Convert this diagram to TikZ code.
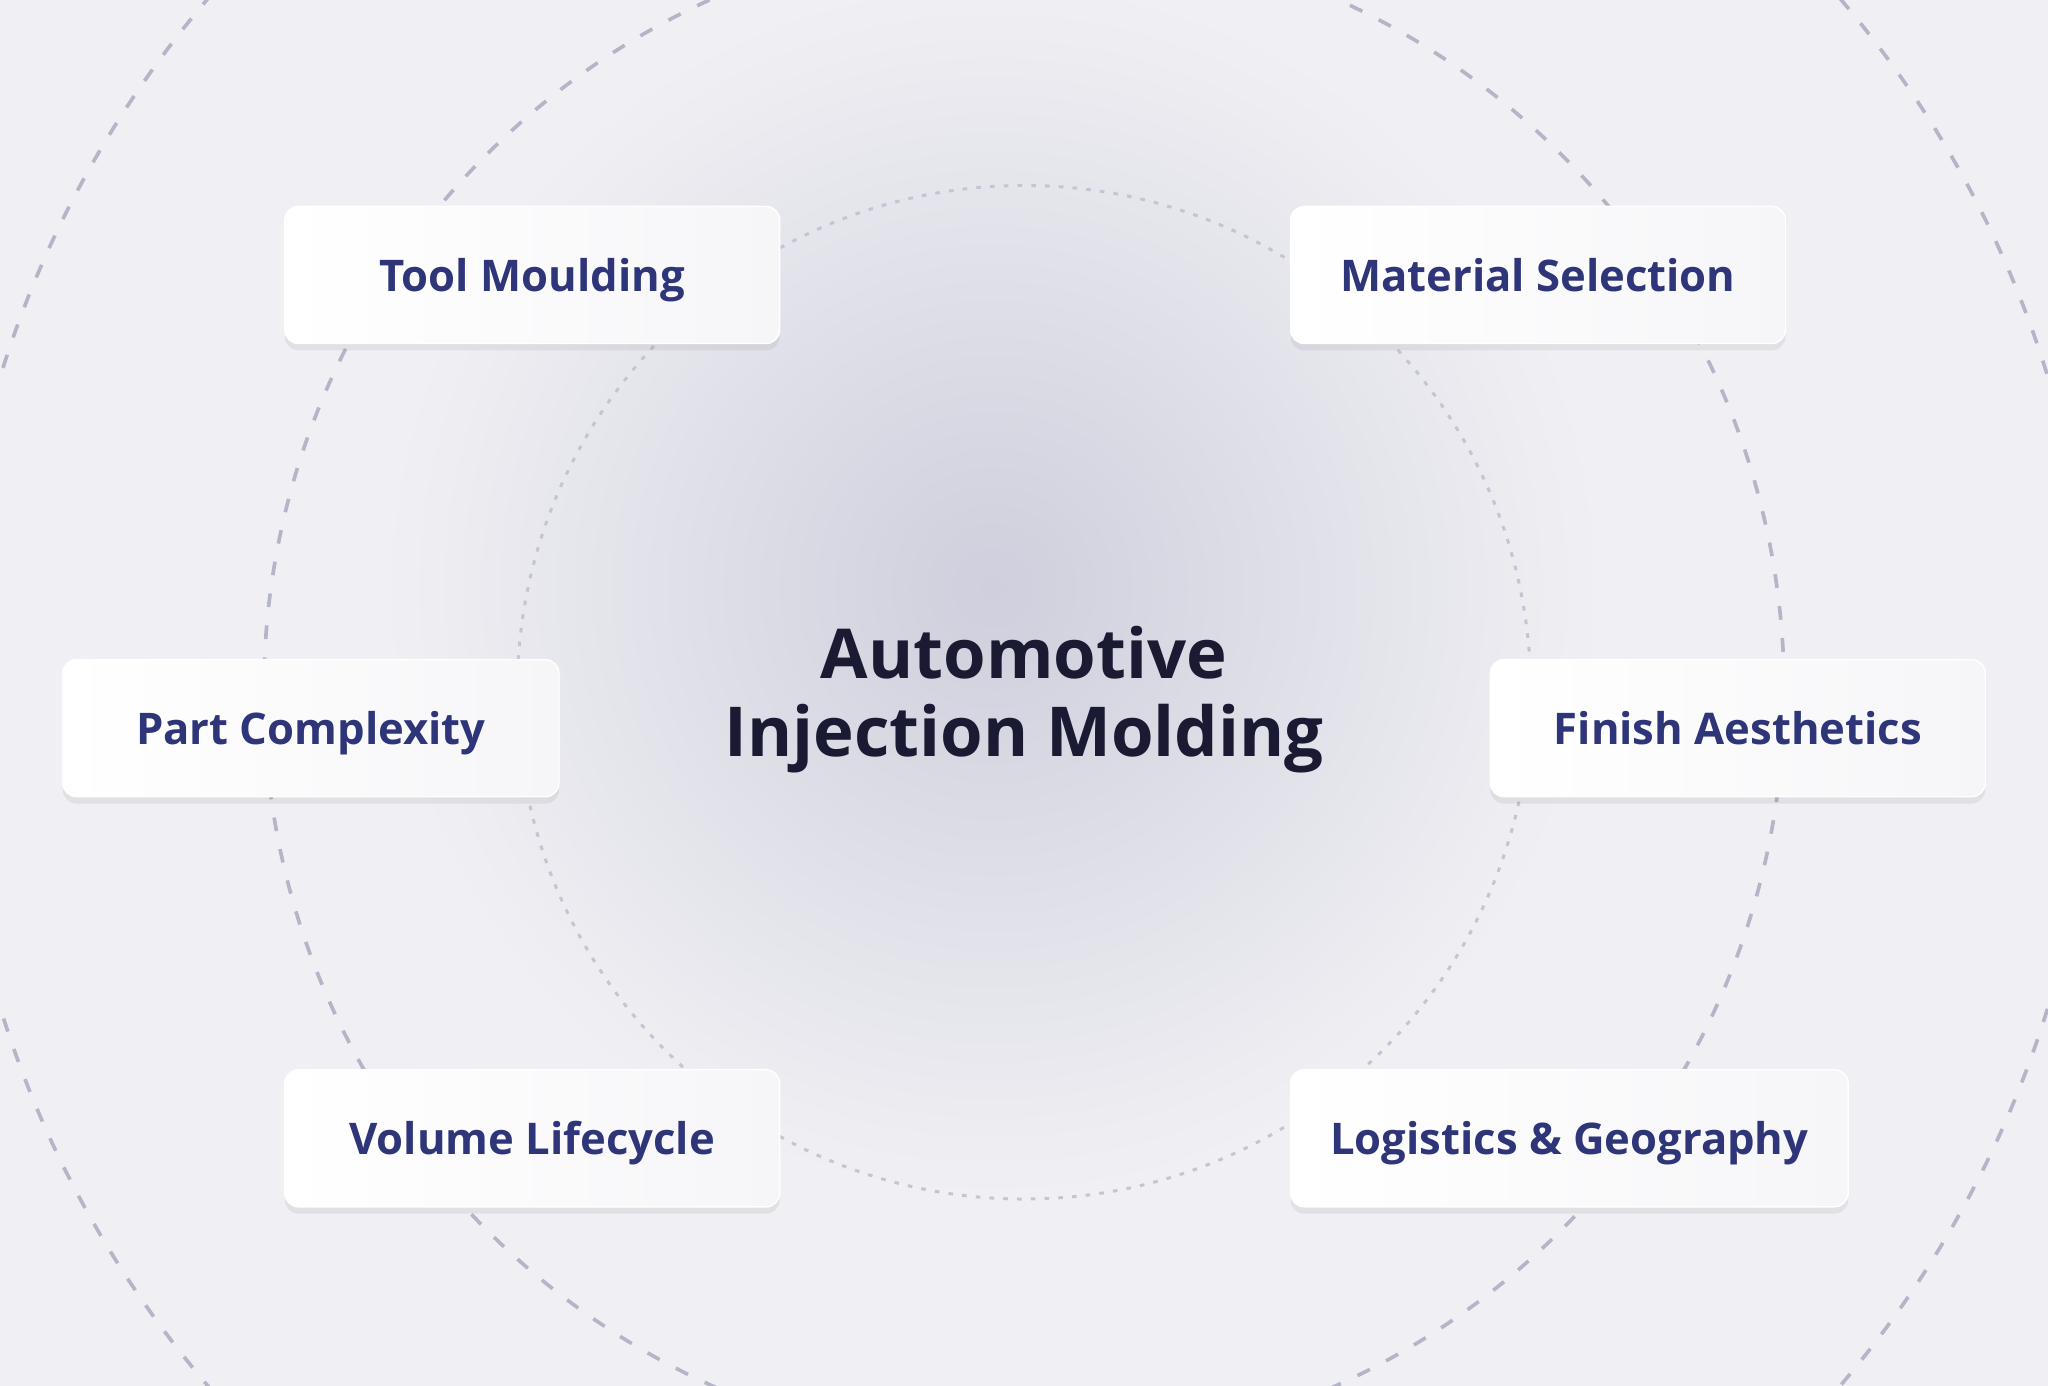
\documentclass[tikz,border=0pt]{standalone}
\usepackage{fontspec}
\setmainfont{Open Sans}
\usetikzlibrary{shadows}
\definecolor{bg}{HTML}{F0F0F4}
\definecolor{core}{HTML}{CFCFDD}
\definecolor{navy}{HTML}{2E3578}
\definecolor{titlec}{HTML}{1A1A33}
\definecolor{ring}{HTML}{B4B6C8}
\tikzset{
  card/.style={rounded corners=6pt, left color=white, right color=bg!60!white,
    draw=white, line width=0.6pt,
    drop shadow={shadow xshift=0pt, shadow yshift=-3pt, opacity=0.06, fill=black},
    minimum height=2.1cm, text=navy, font=\fontsize{19}{23}\selectfont\bfseries,
    text height=16pt, text depth=2pt, inner sep=0pt},
  ringline/.style={draw=ring, line width=1.6pt, dash pattern=on 6pt off 8pt},
  ringdot/.style={draw=ring!80, line width=1.3pt, dash pattern=on 2pt off 4pt}
}
\begin{document}
\begin{tikzpicture}[x=0.02cm,y=-0.02cm]
\fill[bg] (0,0) rectangle (1568,1061);
\useasboundingbox (0,0) rectangle (1568,1061);
\begin{scope}
\clip (0,0) rectangle (1568,1061);
\shade[inner color=core, outer color=bg] (760,450) circle (470);
\draw[ringline] (784,530) circle (820);
\draw[ringline] (784,530) circle (582);
\draw[ringdot] (784,530) circle (388);
\end{scope}
\node[card, minimum width=7.58cm] (tool) at (407.5,210.5) {Tool Moulding};
\node[card, minimum width=7.58cm] (mat) at (1177.5,210.5) {Material Selection};
\node[card, minimum width=7.6cm] (part) at (238,557.5) {Part Complexity};
\node[card, minimum width=7.58cm] (fin) at (1330.5,557.5) {Finish Aesthetics};
\node[card, minimum width=7.58cm] (vol) at (407.5,871.5) {Volume Lifecycle};
\node[card, minimum width=8.54cm] (log) at (1201.5,871.5) {Logistics \& Geography};
\node[text=titlec, font=\fontsize{30}{34}\selectfont\bfseries, align=center] (center) at (784,536) {Automotive\\Injection Molding};
\end{tikzpicture}
\end{document}
